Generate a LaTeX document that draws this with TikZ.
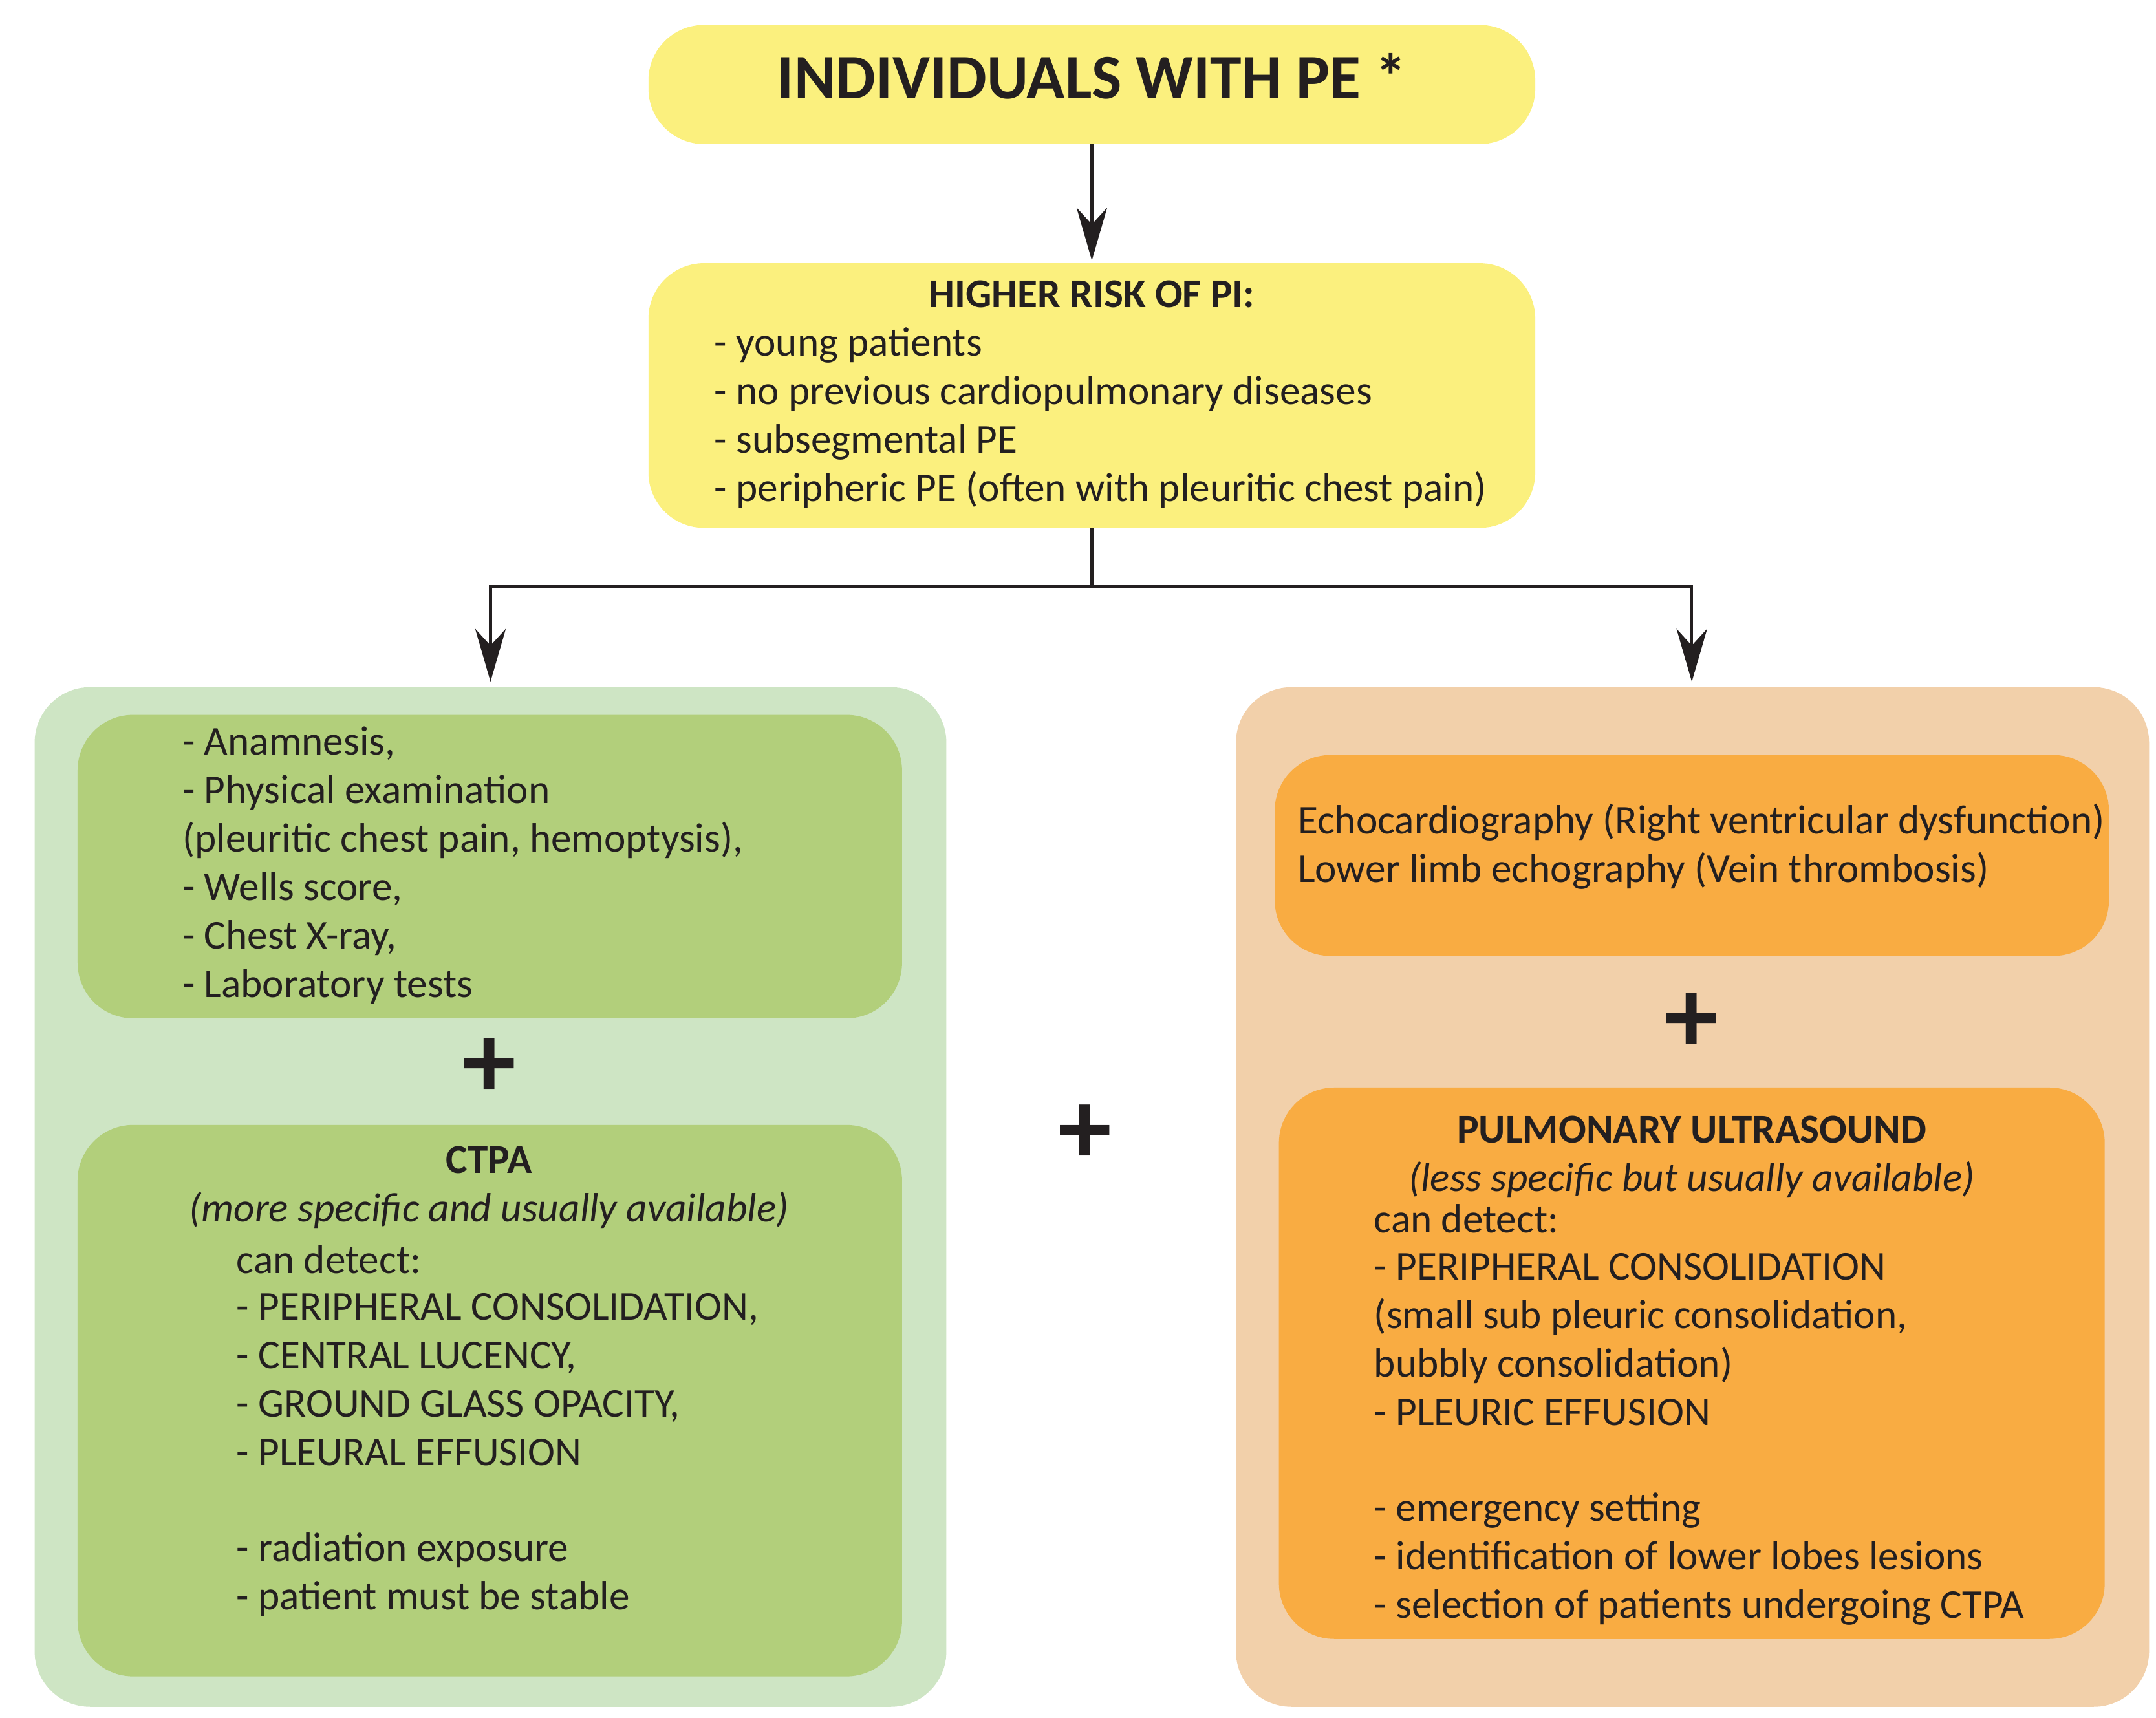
\documentclass[tikz,border=0pt]{standalone}
\usepackage{fontspec}
\setmainfont{Carlito}
\usetikzlibrary{arrows.meta}
\definecolor{yel}{HTML}{FBF07E}
\definecolor{lgreen}{HTML}{CEE5C4}
\definecolor{dgreen}{HTML}{B2CF7B}
\definecolor{lorange}{HTML}{F2D0AA}
\definecolor{dorange}{HTML}{F9AC42}
\definecolor{ink}{HTML}{231F20}
\tikzset{
  box/.style={rounded corners=0.4cm},
  txt/.style={anchor=base west,inner sep=0,font=\fontsize{8.4}{10}\selectfont,text=ink},
  ctxt/.style={anchor=base,inner sep=0,font=\fontsize{8.4}{10}\selectfont,text=ink},
  con/.style={draw=ink,line width=0.6pt},
  arr/.style={con,-{Stealth[length=0.38cm,width=0.22cm,inset=0.12cm]}},
  plus/.style={anchor=center,inner sep=0,font=\fontsize{22}{22}\bfseries\selectfont,text=ink}
}
\begin{document}
\begin{tikzpicture}[x=0.01cm,y=-0.01cm]
\useasboundingbox (0,0) rectangle (1556,1240);
% boxes
\fill[yel,box] (468,18) rectangle (1108,104);
\node[inner sep=0] (title) at (788,61) {};
\fill[yel,box] (468,190) rectangle (1108,381);
\fill[lgreen,box] (25,496) rectangle (683,1232);
\fill[dgreen,box] (56,516) rectangle (651,735);
\fill[dgreen,box] (56,812) rectangle (651,1210);
\fill[lorange,box] (892,496) rectangle (1551,1232);
\fill[dorange,box] (920,545) rectangle (1522,690);
\fill[dorange,box] (923,785) rectangle (1519,1183);
% connector anchors
\coordinate (t1) at (788,104);
\coordinate (r0) at (788,188);
\coordinate (r1) at (788,381);
\coordinate (j) at (788,423);
\coordinate (jl) at (354,423);
\coordinate (jr) at (1221,423);
\coordinate (l0) at (354,492);
\coordinate (rr0) at (1221,492);
\draw[arr] (t1) -- (r0);
\draw[con] (r1) -- (j);
\draw[arr] (j) -- (jl) -- (l0);
\draw[arr] (j) -- (jr) -- (rr0);
% title
\node[ctxt,font=\fontsize{13}{15}\bfseries\selectfont] (tt) at (788,71) {INDIVIDUALS WITH PE *};
% risk
\node[ctxt,font=\fontsize{8.4}{10}\bfseries\selectfont] (rh) at (788,222) {HIGHER RISK OF PI:};
\node[txt] (r1a) at (515,257) {- young patients};
\node[txt] (r2a) at (515,292) {- no previous cardiopulmonary diseases};
\node[txt] (r3a) at (515,327) {- subsegmental PE};
\node[txt] (r4a) at (515,362) {- peripheric PE (often with pleuritic chest pain)};
% left top
\node[txt] (a1) at (131,545) {- Anamnesis,};
\node[txt] (a2) at (131,580) {- Physical examination};
\node[txt] (a3) at (131,615) {(pleuritic chest pain, hemoptysis),};
\node[txt] (a4) at (131,650) {- Wells score,};
\node[txt] (a5) at (131,685) {- Chest X-ray,};
\node[txt] (a6) at (131,720) {- Laboratory tests};
\node[plus] (p1) at (353,771) {+};
% CTPA
\node[ctxt,font=\fontsize{8.4}{10}\bfseries\selectfont] (ch) at (353,847) {CTPA};
\node[ctxt,font=\fontsize{8.4}{10}\itshape\selectfont] (ci) at (353,882) {(more specific and usually available)};
\node[txt] (c1) at (170,919) {can detect:};
\node[txt] (c2) at (170,953) {- PERIPHERAL CONSOLIDATION,};
\node[txt] (c3) at (170,988) {- CENTRAL LUCENCY,};
\node[txt] (c4) at (170,1023) {- GROUND GLASS OPACITY,};
\node[txt] (c5) at (170,1058) {- PLEURAL EFFUSION};
\node[txt] (c6) at (170,1127) {- radiation exposure};
\node[txt] (c7) at (170,1162) {- patient must be stable};
\node[plus] (p2) at (783,819) {+};
% right top
\node[txt] (e1) at (936,602) {Echocardiography (Right ventricular dysfunction)};
\node[txt] (e2) at (936,637) {Lower limb echography (Vein thrombosis)};
\node[plus] (p3) at (1221,738) {+};
% pulmonary US
\node[ctxt,font=\fontsize{8.4}{10}\bfseries\selectfont] (uh) at (1221,825) {PULMONARY ULTRASOUND};
\node[ctxt,font=\fontsize{8.4}{10}\itshape\selectfont] (ui) at (1221,860) {(less specific but usually available)};
\node[txt] (u1) at (991,890) {can detect:};
\node[txt] (u2) at (991,924) {- PERIPHERAL CONSOLIDATION};
\node[txt] (u3) at (991,959) {(small sub pleuric consolidation,};
\node[txt] (u4) at (991,994) {bubbly consolidation)};
\node[txt] (u5) at (991,1029) {- PLEURIC EFFUSION};
\node[txt] (u6) at (991,1098) {- emergency setting};
\node[txt] (u7) at (991,1133) {- identification of lower lobes lesions};
\node[txt] (u8) at (991,1168) {- selection of patients undergoing CTPA};
\end{tikzpicture}
\end{document}
